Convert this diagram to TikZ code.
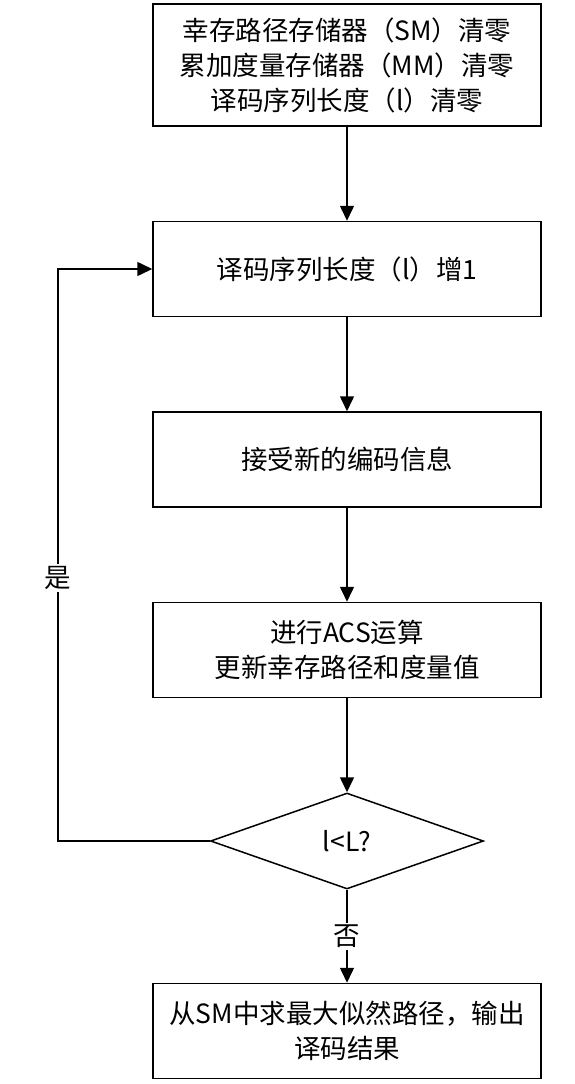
\documentclass[tikz,border=0pt]{standalone}
\usepackage{fontspec}
\setmainfont{Noto Sans CJK SC}
\usepackage{tikz}
\usetikzlibrary{arrows.meta, positioning, shapes.geometric}

\begin{document}
\begin{tikzpicture}[
    x=1pt, y=1pt,
    node distance=94pt,
    stepbox/.style={rectangle, draw, line width=1.5pt, minimum width=388pt, minimum height=#1,
                    align=center, inner sep=0pt, font=\fontsize{26.5}{35}\selectfont},
    stepbox/.default={95pt},
    decide/.style={diamond, draw, line width=1.5pt, minimum width=273pt, minimum height=96pt,
                   inner sep=0pt, font=\fontsize{26.5}{35}\selectfont},
    arr/.style={-{Triangle[length=15pt, width=14pt]}, line width=1.5pt},
    blabel/.style={fill=white, inner sep=2pt, font=\fontsize{26.5}{35}\selectfont},
]
\useasboundingbox (0,0) rectangle (574,-1084);

\node[stepbox=122pt] (clear) at (347,-65) {
    幸存路径存储器（SM）清零\\
    累加度量存储器（MM）清零\\
    译码序列长度（l）清零
};
\node[stepbox, below=of clear] (incr) {译码序列长度（l）增1};
\node[stepbox, below=of incr] (recv) {接受新的编码信息};
\node[stepbox, below=of recv] (acs) {
    进行ACS运算\\
    更新幸存路径和度量值
};
\node[decide, below=of acs] (test) {l<L?};
\node[stepbox, below=93pt of test] (out) {
    从SM中求最大似然路径，输出\\
    译码结果
};
\coordinate (loopb) at (58,0 |- test.west);
\coordinate (loopt) at (58,0 |- incr.west);

\draw[arr] (clear) -- (incr);
\draw[arr] (incr) -- (recv);
\draw[arr] (recv) -- (acs);
\draw[arr] (acs) -- (test);
\draw[arr] (test) -- (out) node[midway, blabel] {否};
\draw[arr] (test.west) -- (loopb) -- (loopt) node[pos=0.46, blabel] {是} -- (incr.west);

\end{tikzpicture}
\end{document}
